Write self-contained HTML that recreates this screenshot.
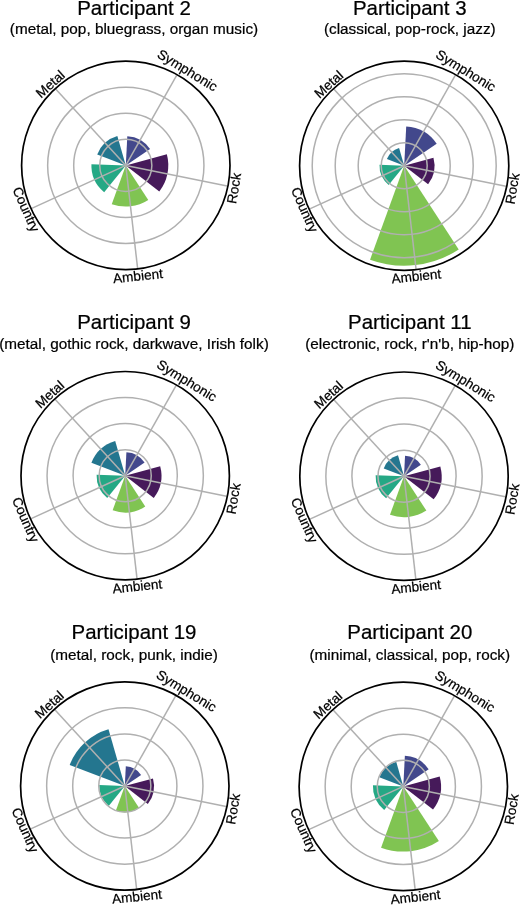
<!DOCTYPE html>
<html><head><meta charset="utf-8"><title>Participants</title>
<style>
html,body{margin:0;padding:0;background:#fff;}
body{width:520px;height:905px;overflow:hidden;}
svg{display:block;}
text{font-family:"Liberation Sans",Arial,Helvetica,sans-serif;fill:#000;stroke:#000;stroke-width:0.22px;}
.t{font-size:20.45px;text-anchor:middle;}
.s{font-size:15.3px;text-anchor:middle;}
.k{font-size:13.6px;text-anchor:middle;}
</style></head><body>
<svg width="520" height="905" viewBox="0 0 520 905">
<rect width="520" height="905" fill="#fff"/>
<g>
<text class="t" x="134.0" y="14.5">Participant 2</text>
<text class="s" x="134.0" y="33.7">(metal, pop, bluegrass, organ music)</text>
<path d="M125.80,165.40L166.84,154.37A42.50,42.50 0 0 1 159.31,191.54Z" fill="#461a5a"/>
<path d="M125.80,165.40L127.31,136.14A29.30,29.30 0 0 1 150.08,149.00Z" fill="#42488c"/>
<path d="M125.80,165.40L97.22,154.45A30.60,30.60 0 0 1 117.34,135.99Z" fill="#24768f"/>
<path d="M125.80,165.40L104.17,192.15A34.40,34.40 0 0 1 91.42,164.22Z" fill="#25a885"/>
<path d="M125.80,165.40L148.26,199.94A41.20,41.20 0 0 1 111.74,204.13Z" fill="#80c452"/>
<g fill="none" stroke="#b0b0b0" stroke-width="1.5"><circle cx="125.8" cy="165.4" r="26.05"/><circle cx="125.8" cy="165.4" r="52.10"/><circle cx="125.8" cy="165.4" r="78.15"/><path d="M125.8,165.4L176.65,75.37"/><path d="M125.8,165.4L55.89,89.21"/><path d="M125.8,165.4L31.74,208.34"/><path d="M125.8,165.4L137.58,268.13"/><path d="M125.8,165.4L227.14,185.94"/></g>
<circle cx="125.8" cy="165.4" r="104.2" fill="none" stroke="#000" stroke-width="1.7"/>
<text class="k" transform="translate(187.55,70.10) rotate(31.5)" y="4.8">Symphonic</text>
<text class="k" transform="translate(50.19,83.95) rotate(-42.0)" y="4.8">Metal</text>
<text class="k" transform="translate(26.34,209.34) rotate(66.0)" y="4.8">Country</text>
<text class="k" transform="translate(137.88,275.78) rotate(-6.0)" y="4.8">Ambient</text>
<text class="k" transform="translate(233.89,188.29) rotate(-80.3)" y="4.8">Rock</text>
</g>
<g>
<text class="t" x="409.8" y="14.6">Participant 3</text>
<text class="s" x="409.8" y="33.9">(classical, pop-rock, jazz)</text>
<path d="M404.20,165.70L433.46,157.84A30.30,30.30 0 0 1 428.09,184.34Z" fill="#461a5a"/>
<path d="M404.20,165.70L406.22,126.55A39.20,39.20 0 0 1 436.68,143.76Z" fill="#42488c"/>
<path d="M404.20,165.70L386.92,159.08A18.50,18.50 0 0 1 399.09,147.92Z" fill="#24768f"/>
<path d="M404.20,165.70L388.67,184.91A24.70,24.70 0 0 1 379.51,164.86Z" fill="#25a885"/>
<path d="M404.20,165.70L458.72,249.53A100.00,100.00 0 0 1 370.06,259.69Z" fill="#80c452"/>
<g fill="none" stroke="#b0b0b0" stroke-width="1.5"><circle cx="404.2" cy="165.7" r="23.00"/><circle cx="404.2" cy="165.7" r="46.00"/><circle cx="404.2" cy="165.7" r="69.00"/><circle cx="404.2" cy="165.7" r="92.00"/><path d="M404.2,165.7L455.25,75.32"/><path d="M404.2,165.7L334.02,89.22"/><path d="M404.2,165.7L309.78,208.81"/><path d="M404.2,165.7L416.02,268.82"/><path d="M404.2,165.7L505.93,186.32"/></g>
<circle cx="404.2" cy="165.7" r="104.6" fill="none" stroke="#000" stroke-width="1.7"/>
<text class="k" transform="translate(465.95,70.40) rotate(31.5)" y="4.8">Symphonic</text>
<text class="k" transform="translate(328.59,84.25) rotate(-42.0)" y="4.8">Metal</text>
<text class="k" transform="translate(304.74,209.64) rotate(66.0)" y="4.8">Country</text>
<text class="k" transform="translate(416.28,276.08) rotate(-6.0)" y="4.8">Ambient</text>
<text class="k" transform="translate(512.29,188.59) rotate(-80.3)" y="4.8">Rock</text>
</g>
<g>
<text class="t" x="134.0" y="329.1">Participant 9</text>
<text class="s" x="134.0" y="348.5">(metal, gothic rock, darkwave, Irish folk)</text>
<path d="M125.20,475.70L160.16,466.31A36.20,36.20 0 0 1 153.74,497.97Z" fill="#461a5a"/>
<path d="M125.20,475.70L126.41,452.33A23.40,23.40 0 0 1 144.59,462.60Z" fill="#42488c"/>
<path d="M125.20,475.70L91.40,462.75A36.20,36.20 0 0 1 115.20,440.91Z" fill="#24768f"/>
<path d="M125.20,475.70L107.22,497.94A28.60,28.60 0 0 1 96.62,474.72Z" fill="#25a885"/>
<path d="M125.20,475.70L145.26,506.55A36.80,36.80 0 0 1 112.64,510.29Z" fill="#80c452"/>
<g fill="none" stroke="#b0b0b0" stroke-width="1.5"><circle cx="125.2" cy="475.7" r="26.05"/><circle cx="125.2" cy="475.7" r="52.10"/><circle cx="125.2" cy="475.7" r="78.15"/><path d="M125.2,475.7L176.05,385.67"/><path d="M125.2,475.7L55.29,399.51"/><path d="M125.2,475.7L31.14,518.64"/><path d="M125.2,475.7L136.98,578.43"/><path d="M125.2,475.7L226.54,496.24"/></g>
<circle cx="125.2" cy="475.7" r="104.2" fill="none" stroke="#000" stroke-width="1.7"/>
<text class="k" transform="translate(186.95,380.40) rotate(31.5)" y="4.8">Symphonic</text>
<text class="k" transform="translate(49.59,394.25) rotate(-42.0)" y="4.8">Metal</text>
<text class="k" transform="translate(25.74,519.64) rotate(66.0)" y="4.8">Country</text>
<text class="k" transform="translate(137.28,586.08) rotate(-6.0)" y="4.8">Ambient</text>
<text class="k" transform="translate(233.29,498.59) rotate(-80.3)" y="4.8">Rock</text>
</g>
<g>
<text class="t" x="409.8" y="329.1">Participant 11</text>
<text class="s" x="409.8" y="348.5">(electronic, rock, r&#39;n&#39;b, hip-hop)</text>
<path d="M404.00,476.20L440.31,466.44A37.60,37.60 0 0 1 433.65,499.33Z" fill="#461a5a"/>
<path d="M404.00,476.20L405.05,455.83A20.40,20.40 0 0 1 420.90,464.78Z" fill="#42488c"/>
<path d="M404.00,476.20L383.74,468.44A21.70,21.70 0 0 1 398.00,455.34Z" fill="#24768f"/>
<path d="M404.00,476.20L386.14,498.28A28.40,28.40 0 0 1 375.62,475.23Z" fill="#25a885"/>
<path d="M404.00,476.20L426.35,510.57A41.00,41.00 0 0 1 390.00,514.74Z" fill="#80c452"/>
<g fill="none" stroke="#b0b0b0" stroke-width="1.5"><circle cx="404.0" cy="476.2" r="26.05"/><circle cx="404.0" cy="476.2" r="52.10"/><circle cx="404.0" cy="476.2" r="78.15"/><path d="M404.0,476.2L454.85,386.17"/><path d="M404.0,476.2L334.09,400.01"/><path d="M404.0,476.2L309.94,519.14"/><path d="M404.0,476.2L415.78,578.93"/><path d="M404.0,476.2L505.34,496.74"/></g>
<circle cx="404.0" cy="476.2" r="104.2" fill="none" stroke="#000" stroke-width="1.7"/>
<text class="k" transform="translate(465.75,380.90) rotate(31.5)" y="4.8">Symphonic</text>
<text class="k" transform="translate(328.39,394.75) rotate(-42.0)" y="4.8">Metal</text>
<text class="k" transform="translate(304.54,520.14) rotate(66.0)" y="4.8">Country</text>
<text class="k" transform="translate(416.08,586.58) rotate(-6.0)" y="4.8">Ambient</text>
<text class="k" transform="translate(512.09,499.09) rotate(-80.3)" y="4.8">Rock</text>
</g>
<g>
<text class="t" x="134.0" y="639.1">Participant 19</text>
<text class="s" x="134.0" y="659.6">(metal, rock, punk, indie)</text>
<path d="M124.80,786.00L153.00,778.42A29.20,29.20 0 0 1 147.82,803.96Z" fill="#461a5a"/>
<path d="M124.80,786.00L125.82,766.33A19.70,19.70 0 0 1 141.12,774.97Z" fill="#42488c"/>
<path d="M124.80,786.00L69.70,764.89A59.00,59.00 0 0 1 108.50,729.30Z" fill="#24768f"/>
<path d="M124.80,786.00L108.70,805.91A25.60,25.60 0 0 1 99.21,785.12Z" fill="#25a885"/>
<path d="M124.80,786.00L139.14,808.05A26.30,26.30 0 0 1 115.82,810.72Z" fill="#80c452"/>
<g fill="none" stroke="#b0b0b0" stroke-width="1.5"><circle cx="124.8" cy="786.0" r="26.05"/><circle cx="124.8" cy="786.0" r="52.10"/><circle cx="124.8" cy="786.0" r="78.15"/><path d="M124.8,786.0L175.65,695.97"/><path d="M124.8,786.0L54.89,709.81"/><path d="M124.8,786.0L30.74,828.94"/><path d="M124.8,786.0L136.58,888.73"/><path d="M124.8,786.0L226.14,806.54"/></g>
<circle cx="124.8" cy="786.0" r="104.2" fill="none" stroke="#000" stroke-width="1.7"/>
<text class="k" transform="translate(186.55,690.70) rotate(31.5)" y="4.8">Symphonic</text>
<text class="k" transform="translate(49.19,704.55) rotate(-42.0)" y="4.8">Metal</text>
<text class="k" transform="translate(25.34,829.94) rotate(66.0)" y="4.8">Country</text>
<text class="k" transform="translate(136.88,896.38) rotate(-6.0)" y="4.8">Ambient</text>
<text class="k" transform="translate(232.89,808.89) rotate(-80.3)" y="4.8">Rock</text>
</g>
<g>
<text class="t" x="409.8" y="639.1">Participant 20</text>
<text class="s" x="409.8" y="659.6">(minimal, classical, pop, rock)</text>
<path d="M403.30,786.40L439.71,776.62A37.70,37.70 0 0 1 433.02,809.59Z" fill="#461a5a"/>
<path d="M403.30,786.40L404.88,755.84A30.60,30.60 0 0 1 428.66,769.27Z" fill="#42488c"/>
<path d="M403.30,786.40L379.30,777.21A25.70,25.70 0 0 1 396.20,761.70Z" fill="#24768f"/>
<path d="M403.30,786.40L384.19,810.04A30.40,30.40 0 0 1 372.92,785.36Z" fill="#25a885"/>
<path d="M403.30,786.40L438.85,841.06A65.20,65.20 0 0 1 381.04,847.68Z" fill="#80c452"/>
<g fill="none" stroke="#b0b0b0" stroke-width="1.5"><circle cx="403.3" cy="786.4" r="26.05"/><circle cx="403.3" cy="786.4" r="52.10"/><circle cx="403.3" cy="786.4" r="78.15"/><path d="M403.3,786.4L454.15,696.37"/><path d="M403.3,786.4L333.39,710.21"/><path d="M403.3,786.4L309.24,829.34"/><path d="M403.3,786.4L415.08,889.13"/><path d="M403.3,786.4L504.64,806.94"/></g>
<circle cx="403.3" cy="786.4" r="104.2" fill="none" stroke="#000" stroke-width="1.7"/>
<text class="k" transform="translate(465.05,691.10) rotate(31.5)" y="4.8">Symphonic</text>
<text class="k" transform="translate(327.69,704.95) rotate(-42.0)" y="4.8">Metal</text>
<text class="k" transform="translate(303.84,830.34) rotate(66.0)" y="4.8">Country</text>
<text class="k" transform="translate(415.38,896.78) rotate(-6.0)" y="4.8">Ambient</text>
<text class="k" transform="translate(511.39,809.29) rotate(-80.3)" y="4.8">Rock</text>
</g>
</svg></body></html>
